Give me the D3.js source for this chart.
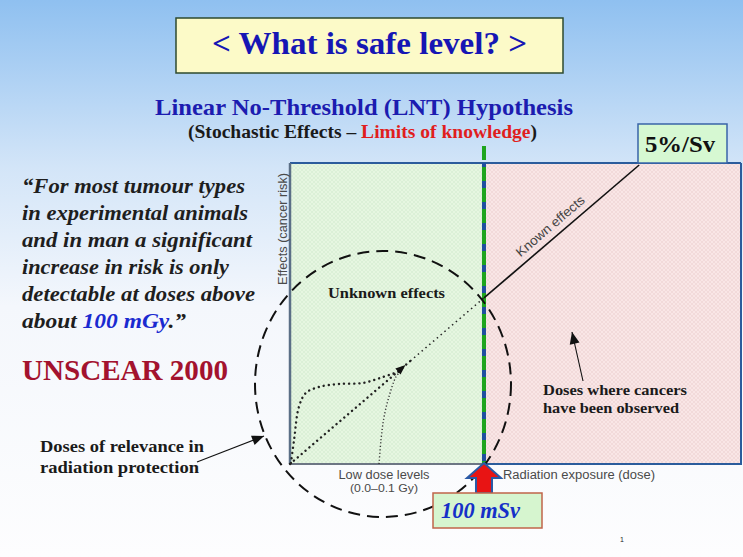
<!DOCTYPE html>
<html>
<head>
<meta charset="utf-8">
<script src="https://cdn.jsdelivr.net/npm/d3@7"></script>
<style>
  html, body { margin: 0; padding: 0; background: #fff; }
  svg { display: block; }
  .serif { font-family: "Liberation Serif", "Times New Roman", serif; }
  .sans { font-family: "Liberation Sans", Arial, sans-serif; }
</style>
</head>
<body>
<div id="chart"></div>
<script>
// dose (mSv) and excess cancer risk (%)
const doseDomain = [0, 233];
const riskDomain = [0, 0.9];
const boundaryDose = 100;
const riskPerSv = 5; // %/Sv
const knownDoses = [100, 180];
const lowDoseLinear = [0, 57.2, 62];
const supralinear = [
  [0.5, 0.003], [2.1, 0.072], [4.6, 0.172], [8.2, 0.214], [15, 0.232],
  [25.3, 0.241], [37.6, 0.244], [48, 0.262], [57.2, 0.28]
];
const thresholdCurve = [
  [45.9, 0], [46.9, 0.072], [48.5, 0.142], [51, 0.202], [54.6, 0.262], [57.2, 0.28]
];
const quoteLines = [
  "\u201cFor most tumour types",
  "in experimental animals",
  "and in man a significant",
  "increase in risk is only",
  "detectable at doses above"
];
const quoteLast = ["about ", "100 mGy", ".\u201d"];
const quoteWidths = [223, 226, 230, 207, 233, 164];

const width = 743, height = 557;
const risk = (d) => (d * riskPerSv) / 1000;

const svg = d3.select("#chart").append("svg")
  .attr("width", width).attr("height", height);

const defs = svg.append("defs");
const bg = defs.append("linearGradient").attr("id", "bg")
  .attr("x1", 0).attr("y1", 0).attr("x2", 0).attr("y2", 1);
bg.append("stop").attr("offset", "0").attr("stop-color", "#8fc0f0");
bg.append("stop").attr("offset", "0.3").attr("stop-color", "#d3e5f8");
bg.append("stop").attr("offset", "0.55").attr("stop-color", "#f4f7fc");
bg.append("stop").attr("offset", "1").attr("stop-color", "#fdfdfe");

function hatch(id, base, line) {
  const p = defs.append("pattern").attr("id", id)
    .attr("width", 4).attr("height", 4).attr("patternUnits", "userSpaceOnUse");
  p.append("rect").attr("width", 4).attr("height", 4).attr("fill", base);
  p.append("path").attr("d", "M0,4L4,0M0,0L4,4")
    .attr("stroke", line).attr("stroke-width", 0.6);
}
hatch("hGreen", "#e6f6e1", "#d4ecd0");
hatch("hPink", "#f9e6e6", "#ecd2d2");

svg.append("rect").attr("width", width).attr("height", height).attr("fill", "url(#bg)");

const x = d3.scaleLinear().domain(doseDomain).range([290, 742]);
const y = d3.scaleLinear().domain(riskDomain).range([464, 165]);

// regions
svg.append("rect").attr("x", x(0)).attr("y", 163)
  .attr("width", x(boundaryDose) - x(0)).attr("height", y(0) - 163)
  .attr("fill", "url(#hGreen)");
svg.append("rect").attr("x", x(boundaryDose)).attr("y", 163)
  .attr("width", x(doseDomain[1]) - x(boundaryDose)).attr("height", y(0) - 163)
  .attr("fill", "url(#hPink)");

// frame
svg.append("line").attr("x1", x(0)).attr("x2", x(doseDomain[1]) - 1)
  .attr("y1", 163).attr("y2", 163).attr("stroke", "#2b5c9c").attr("stroke-width", 2);
svg.append("line").attr("x1", x(doseDomain[1]) - 1).attr("x2", x(doseDomain[1]) - 1)
  .attr("y1", 163).attr("y2", y(0)).attr("stroke", "#2b5c9c").attr("stroke-width", 2);
svg.append("line").attr("x1", x(0)).attr("x2", x(0))
  .attr("y1", 163).attr("y2", y(0)).attr("stroke", "#5b6f86").attr("stroke-width", 2.5);
svg.append("line").attr("x1", x(0)).attr("x2", x(boundaryDose))
  .attr("y1", y(0)).attr("y2", y(0)).attr("stroke", "#6d7684").attr("stroke-width", 2);
svg.append("line").attr("x1", x(boundaryDose)).attr("x2", x(doseDomain[1]))
  .attr("y1", y(0)).attr("y2", y(0)).attr("stroke", "#2b5c9c").attr("stroke-width", 2);

// boundary
svg.append("line").attr("x1", x(boundaryDose)).attr("x2", x(boundaryDose))
  .attr("y1", 163).attr("y2", y(0)).attr("stroke", "#1f4f9f").attr("stroke-width", 4);
svg.append("line").attr("x1", x(boundaryDose)).attr("x2", x(boundaryDose))
  .attr("y1", 146).attr("y2", y(0)).attr("stroke", "#1ea51e").attr("stroke-width", 4)
  .attr("stroke-dasharray", "14,7");

// known effects (LNT)
const line = d3.line().x((d) => x(d[0])).y((d) => y(d[1]));
svg.append("path").datum(knownDoses.map((d) => [d, risk(d)]))
  .attr("d", line).attr("fill", "none").attr("stroke", "#111").attr("stroke-width", 1.6);

// low dose extrapolations
svg.append("path").datum(lowDoseLinear.map((d) => [d, risk(d)]))
  .attr("d", line).attr("fill", "none").attr("stroke", "#222").attr("stroke-width", 2.4)
  .attr("stroke-linecap", "round").attr("stroke-dasharray", "0.1,5");
svg.append("path").datum([[lowDoseLinear[2], risk(lowDoseLinear[2])], [boundaryDose, risk(boundaryDose)]])
  .attr("d", line).attr("fill", "none").attr("stroke", "#222").attr("stroke-width", 1.6)
  .attr("stroke-dasharray", "1.5,3.5");
const curve = d3.line().x((d) => x(d[0])).y((d) => y(d[1])).curve(d3.curveCatmullRom);
svg.append("path").datum(supralinear)
  .attr("d", curve).attr("fill", "none").attr("stroke", "#222").attr("stroke-width", 2.4)
  .attr("stroke-linecap", "round").attr("stroke-dasharray", "0.1,5");
svg.append("path").datum(thresholdCurve)
  .attr("d", curve).attr("fill", "none").attr("stroke", "#333").attr("stroke-width", 1.4)
  .attr("stroke-dasharray", "1.2,2.2");
// arrowhead where the curves meet
{
  const ax = x(57.2), ay = y(0.28) - 2;
  const ang = Math.atan2(y(risk(100)) - y(0), x(100) - x(0));
  const hp = [[6, 0], [-4, -4], [-4, 4]].map(([u, v]) =>
    [ax + u * Math.cos(ang) - v * Math.sin(ang), ay + u * Math.sin(ang) + v * Math.cos(ang)]);
  svg.append("path").attr("d", "M" + hp.join("L") + "Z").attr("fill", "#111");
}

// dashed circle of relevant doses
svg.append("ellipse").attr("cx", 383).attr("cy", 384).attr("rx", 128).attr("ry", 133)
  .attr("fill", "none").attr("stroke", "#111").attr("stroke-width", 2)
  .attr("stroke-dasharray", "12,7");

// annotation arrows
function arrow(x1, y1, x2, y2) {
  svg.append("line").attr("x1", x1).attr("y1", y1).attr("x2", x2).attr("y2", y2)
    .attr("stroke", "#111").attr("stroke-width", 1.1);
  const a = Math.atan2(y2 - y1, x2 - x1), L = 12, W = 5;
  const p = [[x2, y2],
    [x2 - L * Math.cos(a) + W * Math.sin(a), y2 - L * Math.sin(a) - W * Math.cos(a)],
    [x2 - L * Math.cos(a) - W * Math.sin(a), y2 - L * Math.sin(a) + W * Math.cos(a)]];
  svg.append("path").attr("d", "M" + p.join("L") + "Z").attr("fill", "#111");
}
arrow(197, 462, 264, 436);
arrow(583, 381, 572, 332);

// texts inside the plot
svg.append("text").attr("class", "serif").attr("x", 328).attr("y", 298)
  .attr("font-size", 15).attr("font-weight", "bold").attr("fill", "#1a1a1a")
  .attr("textLength", 117).attr("lengthAdjust", "spacingAndGlyphs")
  .text("Unknown  effects");
{
  const ang = Math.atan2(y(risk(180)) - y(risk(100)), x(180) - x(100)) * 180 / Math.PI;
  svg.append("text").attr("class", "sans")
    .attr("transform", `translate(${x(138)},${y(risk(138))}) rotate(${ang})`)
    .attr("text-anchor", "middle")
    .attr("dy", -7).attr("font-size", 13).attr("fill", "#444")
    .attr("textLength", 86).attr("lengthAdjust", "spacingAndGlyphs")
    .text("Known effects");
}
[["Doses where cancers", 395, 144], ["have been observed", 413, 136]].forEach(([t, yy, w]) => {
  svg.append("text").attr("class", "serif").attr("x", 543).attr("y", yy)
    .attr("font-size", 15.5).attr("font-weight", "bold").attr("fill", "#1a1a1a")
    .attr("textLength", w).attr("lengthAdjust", "spacingAndGlyphs").text(t);
});
svg.append("text").attr("class", "sans")
  .attr("transform", "translate(287,229) rotate(-90)").attr("text-anchor", "middle")
  .attr("font-size", 12.5).attr("fill", "#4a4a4a")
  .attr("textLength", 112).attr("lengthAdjust", "spacingAndGlyphs")
  .text("Effects (cancer risk)");
svg.append("text").attr("class", "sans").attr("x", 384).attr("y", 479)
  .attr("text-anchor", "middle").attr("font-size", 12).attr("fill", "#4a4a4a")
  .attr("textLength", 91).attr("lengthAdjust", "spacingAndGlyphs")
  .text("Low dose levels");
svg.append("text").attr("class", "sans").attr("x", 384).attr("y", 492)
  .attr("text-anchor", "middle").attr("font-size", 11.5).attr("fill", "#4a4a4a")
  .attr("textLength", 68).attr("lengthAdjust", "spacingAndGlyphs")
  .text("(0.0\u20130.1 Gy)");
svg.append("text").attr("class", "sans").attr("x", 503).attr("y", 479)
  .attr("font-size", 12.5).attr("fill", "#4a4a4a")
  .attr("textLength", 152).attr("lengthAdjust", "spacingAndGlyphs")
  .text("Radiation exposure (dose)");

// 100 mSv marker
{
  const bx = x(boundaryDose);
  const pts = [[bx, 463], [bx + 17, 478], [bx + 8, 478], [bx + 8, 493],
    [bx - 8, 493], [bx - 8, 478], [bx - 17, 478]];
  svg.append("path").attr("d", "M" + pts.join("L") + "Z")
    .attr("fill", "#e81414").attr("stroke", "#2a5aa6").attr("stroke-width", 2);
}
svg.append("rect").attr("x", 433).attr("y", 493).attr("width", 109).attr("height", 35)
  .attr("fill", "#d6f5cf").attr("stroke", "#c0644a").attr("stroke-width", 1.5);
svg.append("text").attr("class", "serif").attr("x", 441).attr("y", 518)
  .attr("font-size", 23).attr("font-weight", "bold").attr("font-style", "italic")
  .attr("fill", "#1530c8").attr("textLength", 79).attr("lengthAdjust", "spacingAndGlyphs")
  .text("100 mSv");

// 5%/Sv box
svg.append("rect").attr("x", 638).attr("y", 124).attr("width", 89).attr("height", 39)
  .attr("fill", "#d6f8d2").attr("stroke", "#3a64a8").attr("stroke-width", 1.5);
svg.append("text").attr("class", "serif").attr("x", 645).attr("y", 152)
  .attr("font-size", 23).attr("font-weight", "bold").attr("fill", "#111")
  .attr("textLength", 70).attr("lengthAdjust", "spacingAndGlyphs")
  .text(`${riskPerSv}%/Sv`);

// title
svg.append("rect").attr("x", 176).attr("y", 18).attr("width", 387).attr("height", 55)
  .attr("fill", "#fcfac8").attr("stroke", "#2e4a2e").attr("stroke-width", 1.5);
svg.append("text").attr("class", "serif").attr("x", 212).attr("y", 54)
  .attr("font-size", 32).attr("font-weight", "bold").attr("fill", "#1616b4")
  .attr("textLength", 315).attr("lengthAdjust", "spacingAndGlyphs")
  .text("< What is safe level? >");
svg.append("text").attr("class", "serif").attr("x", 155).attr("y", 115)
  .attr("font-size", 24).attr("font-weight", "bold").attr("fill", "#1c1cb0")
  .attr("textLength", 418).attr("lengthAdjust", "spacingAndGlyphs")
  .text("Linear No-Threshold (LNT) Hypothesis");
{
  const t = svg.append("text").attr("class", "serif").attr("x", 188).attr("y", 138)
    .attr("font-size", 18).attr("font-weight", "bold").attr("fill", "#1a1a1a")
    .attr("textLength", 349).attr("lengthAdjust", "spacingAndGlyphs");
  t.append("tspan").text("(Stochastic  Effects \u2013 ");
  t.append("tspan").attr("fill", "#e01e1e").text("Limits of knowledge");
  t.append("tspan").text(")");
}

// quote
quoteLines.forEach((s, i) => {
  svg.append("text").attr("class", "serif").attr("x", 22).attr("y", 193 + i * 27)
    .attr("font-size", 21).attr("font-weight", "bold").attr("font-style", "italic")
    .attr("fill", "#1e1e1e").attr("textLength", quoteWidths[i])
    .attr("lengthAdjust", "spacingAndGlyphs").text(s);
});
{
  const t = svg.append("text").attr("class", "serif").attr("x", 22).attr("y", 193 + 5 * 27)
    .attr("font-size", 21).attr("font-weight", "bold").attr("font-style", "italic")
    .attr("fill", "#1e1e1e").attr("textLength", quoteWidths[5])
    .attr("lengthAdjust", "spacingAndGlyphs");
  t.append("tspan").text(quoteLast[0]);
  t.append("tspan").attr("fill", "#1a2ad0").text(quoteLast[1]);
  t.append("tspan").text(quoteLast[2]);
}
svg.append("text").attr("class", "serif").attr("x", 22).attr("y", 380)
  .attr("font-size", 30).attr("font-weight", "bold").attr("fill", "#a3122e")
  .attr("textLength", 206).attr("lengthAdjust", "spacingAndGlyphs")
  .text("UNSCEAR 2000");

[["Doses of relevance in", 452, 164], ["radiation protection", 473, 159]].forEach(([t, yy, w]) => {
  svg.append("text").attr("class", "serif").attr("x", 40).attr("y", yy)
    .attr("font-size", 17).attr("font-weight", "bold").attr("fill", "#1a1a1a")
    .attr("textLength", w).attr("lengthAdjust", "spacingAndGlyphs").text(t);
});

svg.append("text").attr("class", "sans").attr("x", 620).attr("y", 542)
  .attr("font-size", 7).attr("fill", "#222").text("1");
</script>
</body>
</html>
